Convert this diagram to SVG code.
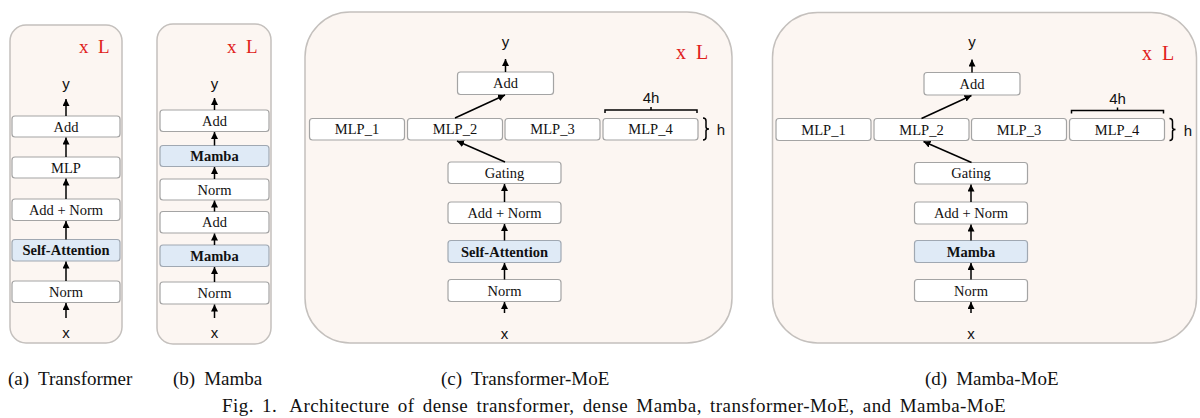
<svg xmlns="http://www.w3.org/2000/svg" width="1200" height="418" viewBox="0 0 1200 418">
<defs>
<style>
.panel{fill:#fcf6f2;stroke:#c4c0bd;stroke-width:1.5}
.box{fill:#ffffff;stroke:#a4a4a4;stroke-width:1.2}
.blue{fill:#dfeaf6;stroke:#a0a8b2;stroke-width:1.2}
.lbl{font-family:"Liberation Serif","Times New Roman",serif;font-size:14.5px;fill:#111;text-anchor:middle}
.bold{font-weight:bold}
.var{font-family:"Liberation Sans",Arial,sans-serif;font-size:15px;fill:#111;text-anchor:middle}
.xl{font-family:"Liberation Serif","Times New Roman",serif;fill:#e0221c}
.cap{font-family:"Liberation Serif","Times New Roman",serif;font-size:19px;fill:#111}
.conn{stroke:#000;stroke-width:1.5;fill:none;marker-end:url(#ah)}
.brk{stroke:#000;stroke-width:1.5;fill:none}
</style>
<marker id="ah" markerUnits="userSpaceOnUse" markerWidth="7" markerHeight="7" refX="7" refY="3.5" orient="auto">
<path d="M0,0 L7,3.5 L0,7 z" fill="#000"/>
</marker>
</defs>

<!-- panels -->
<g id="panel-a"><rect class="panel" x="10" y="25" width="112" height="318" rx="16"/><text class="xl" x="79" y="53" font-size="19" xml:space="preserve">x  L</text></g>
<g id="panel-b"><rect class="panel" x="157" y="24" width="114" height="320" rx="16"/><text class="xl" x="227" y="53" font-size="19" xml:space="preserve">x  L</text></g>
<g id="panel-c"><rect class="panel" x="305" y="12" width="427" height="331" rx="45"/><text class="xl" x="676" y="59" font-size="20" xml:space="preserve">x  L</text></g>
<g id="panel-d"><rect class="panel" x="772.5" y="12.5" width="424" height="330.5" rx="45"/><text class="xl" x="1142" y="60" font-size="20" xml:space="preserve">x  L</text></g>

<!-- panel a nodes -->
<g id="a-y"><text class="var" x="66" y="89">y</text></g>
<g id="a-add"><rect class="box" x="12" y="116" width="108" height="21" rx="3"/><text class="lbl" x="66" y="131.5">Add</text></g>
<g id="a-mlp"><rect class="box" x="12" y="157" width="108" height="21" rx="3"/><text class="lbl" x="66" y="172.5">MLP</text></g>
<g id="a-addnorm"><rect class="box" x="12" y="199" width="108" height="21.5" rx="3"/><text class="lbl" x="66" y="214.7">Add + Norm</text></g>
<g id="a-sa"><rect class="blue" x="12" y="239.5" width="108" height="21.5" rx="3"/><text class="lbl bold" x="66" y="255.2">Self-Attention</text></g>
<g id="a-norm"><rect class="box" x="12" y="281" width="108" height="21.5" rx="3"/><text class="lbl" x="66" y="296.7">Norm</text></g>
<g id="a-x"><text class="var" x="66" y="338">x</text></g>

<!-- panel b nodes -->
<g id="b-y"><text class="var" x="214.5" y="89">y</text></g>
<g id="b-add2"><rect class="box" x="160" y="110" width="109" height="21.5" rx="3"/><text class="lbl" x="214.5" y="125.7">Add</text></g>
<g id="b-mamba2"><rect class="blue" x="160" y="145.5" width="109" height="21" rx="3"/><text class="lbl bold" x="214.5" y="161">Mamba</text></g>
<g id="b-norm2"><rect class="box" x="160" y="179" width="109" height="21" rx="3"/><text class="lbl" x="214.5" y="194.5">Norm</text></g>
<g id="b-add1"><rect class="box" x="160" y="211.5" width="109" height="21.5" rx="3"/><text class="lbl" x="214.5" y="227.2">Add</text></g>
<g id="b-mamba1"><rect class="blue" x="160" y="245" width="109" height="21.5" rx="3"/><text class="lbl bold" x="214.5" y="260.7">Mamba</text></g>
<g id="b-norm1"><rect class="box" x="160" y="282" width="109" height="22" rx="3"/><text class="lbl" x="214.5" y="298">Norm</text></g>
<g id="b-x"><text class="var" x="214.5" y="338">x</text></g>

<!-- panel c nodes -->
<g id="c-y"><text class="var" x="505.5" y="47">y</text></g>
<g id="c-add"><rect class="box" x="457.5" y="72" width="96" height="22.5" rx="3"/><text class="lbl" x="505.5" y="88.2">Add</text></g>
<g id="c-mlp1"><rect class="box" x="309.5" y="118.5" width="95" height="21.5" rx="3"/><text class="lbl" x="357" y="134.2">MLP_1</text></g>
<g id="c-mlp2"><rect class="box" x="407.5" y="118.5" width="95" height="21.5" rx="3"/><text class="lbl" x="455" y="134.2">MLP_2</text></g>
<g id="c-mlp3"><rect class="box" x="505" y="118.5" width="95" height="21.5" rx="3"/><text class="lbl" x="552.5" y="134.2">MLP_3</text></g>
<g id="c-mlp4"><rect class="box" x="603" y="118.5" width="95" height="21.5" rx="3"/><text class="lbl" x="650.5" y="134.2">MLP_4</text></g>
<g id="c-dims"><path class="brk" d="M605,113 V110 H697 V113 M651,110 V107"/><text class="var" x="651" y="103" font-size="14">4h</text><path class="brk" d="M703,118 q3,0 3,3 v6 q0,2 3,2 q-3,0 -3,2 v6 q0,3 -3,3"/><text class="var" x="721" y="135">h</text></g>
<g id="c-gating"><rect class="box" x="448" y="162" width="113" height="21.5" rx="3"/><text class="lbl" x="504.5" y="177.7">Gating</text></g>
<g id="c-addnorm"><rect class="box" x="448" y="202" width="113" height="21.5" rx="3"/><text class="lbl" x="504.5" y="217.7">Add + Norm</text></g>
<g id="c-sa"><rect class="blue" x="448" y="240.5" width="113" height="22" rx="3"/><text class="lbl bold" x="504.5" y="256.5">Self-Attention</text></g>
<g id="c-norm"><rect class="box" x="448" y="279.5" width="113" height="22" rx="3"/><text class="lbl" x="504.5" y="295.5">Norm</text></g>
<g id="c-x"><text class="var" x="504.5" y="339">x</text></g>

<!-- panel d nodes -->
<g id="d-y"><text class="var" x="972" y="47">y</text></g>
<g id="d-add"><rect class="box" x="924" y="72.5" width="96" height="22.5" rx="3"/><text class="lbl" x="972" y="88.7">Add</text></g>
<g id="d-mlp1"><rect class="box" x="776" y="118.5" width="95" height="22" rx="3"/><text class="lbl" x="823.5" y="134.5">MLP_1</text></g>
<g id="d-mlp2"><rect class="box" x="874" y="118.5" width="95" height="22" rx="3"/><text class="lbl" x="921.5" y="134.5">MLP_2</text></g>
<g id="d-mlp3"><rect class="box" x="971.5" y="118.5" width="95" height="22" rx="3"/><text class="lbl" x="1019" y="134.5">MLP_3</text></g>
<g id="d-mlp4"><rect class="box" x="1069.5" y="118.5" width="95" height="22" rx="3"/><text class="lbl" x="1117" y="134.5">MLP_4</text></g>
<g id="d-dims"><path class="brk" d="M1071.5,113.5 V110.5 H1163.5 V113.5 M1117.5,110.5 V107.5"/><text class="var" x="1117.5" y="103.5" font-size="14">4h</text><path class="brk" d="M1169.5,118.5 q3,0 3,3 v6 q0,2 3,2 q-3,0 -3,2 v6 q0,3 -3,3"/><text class="var" x="1188" y="135.5">h</text></g>
<g id="d-gating"><rect class="box" x="914.5" y="162.5" width="113" height="21.5" rx="3"/><text class="lbl" x="971" y="178.2">Gating</text></g>
<g id="d-addnorm"><rect class="box" x="914.5" y="202" width="113" height="22" rx="3"/><text class="lbl" x="971" y="218">Add + Norm</text></g>
<g id="d-mamba"><rect class="blue" x="914.5" y="240.5" width="113" height="22" rx="3"/><text class="lbl bold" x="971" y="256.5">Mamba</text></g>
<g id="d-norm"><rect class="box" x="914.5" y="279.5" width="113" height="22" rx="3"/><text class="lbl" x="971" y="295.5">Norm</text></g>
<g id="d-x"><text class="var" x="971" y="339">x</text></g>

<!-- connectors -->
<g id="connectors">
<line class="conn" x1="66" y1="116" x2="66" y2="99"/>
<line class="conn" x1="66" y1="157" x2="66" y2="137.5"/>
<line class="conn" x1="66" y1="199" x2="66" y2="178.5"/>
<line class="conn" x1="66" y1="239.5" x2="66" y2="221"/>
<line class="conn" x1="66" y1="281" x2="66" y2="261.5"/>
<line class="conn" x1="66" y1="318" x2="66" y2="303"/>

<line class="conn" x1="214.5" y1="110" x2="214.5" y2="98"/>
<line class="conn" x1="214.5" y1="145.5" x2="214.5" y2="132"/>
<line class="conn" x1="214.5" y1="179" x2="214.5" y2="167"/>
<line class="conn" x1="214.5" y1="211.5" x2="214.5" y2="200.5"/>
<line class="conn" x1="214.5" y1="245" x2="214.5" y2="233.5"/>
<line class="conn" x1="214.5" y1="282" x2="214.5" y2="267"/>
<line class="conn" x1="214.5" y1="318" x2="214.5" y2="304.5"/>

<line class="conn" x1="505.5" y1="72" x2="505.5" y2="59"/>
<line class="conn" x1="455" y1="118" x2="505" y2="95"/>
<line class="conn" x1="505" y1="162" x2="457" y2="141"/>
<line class="conn" x1="504.5" y1="202" x2="504.5" y2="184"/>
<line class="conn" x1="504.5" y1="240.5" x2="504.5" y2="224"/>
<line class="conn" x1="504.5" y1="279.5" x2="504.5" y2="263"/>
<line class="conn" x1="504.5" y1="313" x2="504.5" y2="302"/>

<line class="conn" x1="972" y1="72.5" x2="972" y2="59.5"/>
<line class="conn" x1="921.5" y1="118.5" x2="971.5" y2="95.5"/>
<line class="conn" x1="971.5" y1="162.5" x2="923.5" y2="141.5"/>
<line class="conn" x1="971" y1="202" x2="971" y2="184.5"/>
<line class="conn" x1="971" y1="240.5" x2="971" y2="224.5"/>
<line class="conn" x1="971" y1="279.5" x2="971" y2="263"/>
<line class="conn" x1="971" y1="313" x2="971" y2="302"/>
</g>

<!-- captions -->
<g id="captions">
<text class="cap" x="8" y="385">(a)<tspan dx="9">Transformer</tspan></text>
<text class="cap" x="173" y="385">(b)<tspan dx="9">Mamba</tspan></text>
<text class="cap" x="441" y="385">(c)<tspan dx="9">Transformer-MoE</tspan></text>
<text class="cap" x="925" y="385">(d)<tspan dx="9">Mamba-MoE</tspan></text>
<text class="cap" x="222" y="412" font-size="20" word-spacing="3" letter-spacing="0.45">Fig. 1.<tspan dx="12">Architecture of dense transformer, dense Mamba, transformer-MoE, and Mamba-MoE</tspan></text>
</g>
</svg>
